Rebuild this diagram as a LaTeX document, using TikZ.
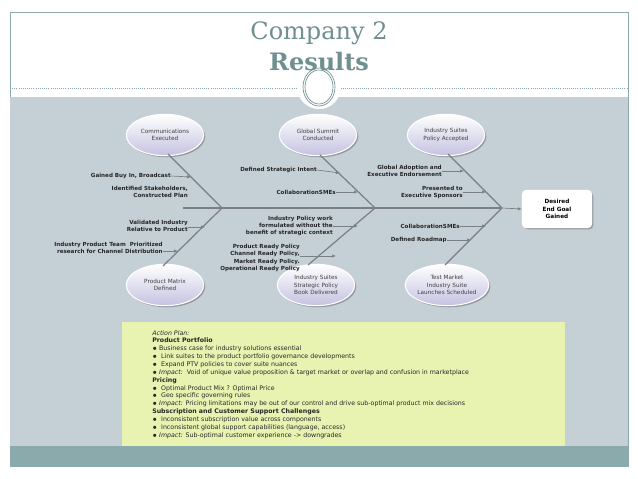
\documentclass[tikz,border=0pt]{standalone}
\usepackage{fontspec}
\setmainfont{DejaVu Sans}
\newfontfamily\titlefont{DejaVu Serif}
\usetikzlibrary{shapes.geometric,arrows.meta,shadows}
\definecolor{bg}{HTML}{C5D0D6}
\definecolor{teal}{HTML}{8AAAAC}
\definecolor{titc}{HTML}{6F8F90}
\definecolor{boxc}{HTML}{E8F3B2}
\definecolor{lav}{HTML}{C4C2E0}
\definecolor{bone}{HTML}{7A7F84}
\begin{document}
\begin{tikzpicture}[x=0.75pt,y=-0.75pt,
  ell/.style={ellipse,draw=white,line width=0.8pt,minimum width=58pt,minimum height=31pt,inner sep=0pt,top color=white,bottom color=lav,
    drop shadow={shadow xshift=1.2pt,shadow yshift=-1.2pt,fill=black!60},align=center,font=\fontsize{4.3}{5.4}\selectfont,text=black!75},
  lab/.style={font=\bfseries\fontsize{4.2}{5.3}\selectfont,align=right,anchor=east,inner sep=0pt,text=black!85},
  bn/.style={draw=bone,line width=0.9pt},
  ar/.style={draw=bone,line width=0.5pt,-{Latex[length=3pt,width=2.5pt]}}]
\useasboundingbox (0,0) rectangle (638,478);
\fill[white] (0,0) rectangle (638,478);
\draw[teal,line width=0.6pt] (10,12) rectangle (628,466);
\fill[bg] (10.3,97) rectangle (627.7,446);
\fill[teal] (10.3,446) rectangle (627.7,465.7);
\draw[teal,densely dotted,line width=0.6pt] (10,88) -- (628,88);
\node[circle,fill=white,minimum size=33pt] (cw) at (319,87) {};
\draw[titc,line width=0.5pt] (319,87) ellipse (16 and 19);
\draw[titc,line width=0.5pt] (319,87) ellipse (14 and 17);
\node[font=\titlefont\fontsize{18}{20}\selectfont,text=titc] (t1) at (319,33) {Company 2};
\node[font=\titlefont\bfseries\fontsize{18}{20}\selectfont,text=titc] (t2) at (319,62) {Results};
% ellipses
\node[ell] (e1) at (165,135) {Communications\\Executed};
\node[ell] (e2) at (318,135) {Global Summit\\Conducted};
\node[ell] (e3) at (446,135) {Industry Suites\\Policy Accepted};
\node[ell] (e4) at (165,285) {Product Matrix\\Defined};
\node[ell] (e5) at (316,285) {Industry Suites\\Strategic Policy\\Book Delivered};
\node[ell] (e6) at (447,285) {Test Market\\Industry Suite\\Launches Scheduled};
\node[draw=white,line width=0.8pt,fill=white,rounded corners=3pt,minimum width=52pt,minimum height=28pt,align=center,
  font=\bfseries\fontsize{4.3}{5.4}\selectfont,drop shadow={shadow xshift=1.2pt,shadow yshift=-1.2pt,fill=black!60}] (goal) at (557,209) {Desired\\End Goal\\Gained};
% spine
\coordinate (j1) at (222,208);
\coordinate (j2) at (375,208);
\coordinate (j3) at (502,208);
\coordinate (s0) at (183,208);
\draw[bn] (s0) -- (j3);
\draw[ar] (j3) -- (goal.west);
\draw[bn] (168,154) -- (j1); \draw[bn] (163,266) -- (j1);
\draw[bn] (320,155) -- (j2); \draw[bn] (308,265) -- (j2);
\draw[bn] (448,154) -- (j3); \draw[bn] (445,265) -- (j3);
% labels
\node[lab] (l1) at (171,176) {Gained Buy In, Broadcast};
\coordinate (a1) at (191,177); \draw[ar] (l1.east) -- (a1);
\node[lab] (l2) at (188,192) {Identified Stakeholders,\\Constructed Plan};
\node[lab] (l3) at (188,226) {Validated Industry\\Relative to Product};
\coordinate (a3) at (205,227); \draw[ar] (l3.east|-a3) -- (a3);
\node[lab] (l4) at (163,248) {Industry Product Team\ \ Prioritized\\research for Channel Distribution};
\coordinate (a4) at (178,251); \draw[ar] (l4.east|-a4) -- (a4);
\node[lab] (l5) at (317,170) {Defined Strategic Intent};
\coordinate (a5) at (340,173); \draw[ar] (l5.east) -- (a5);
\node[lab] (l6) at (336,192) {CollaborationSMEs};
\coordinate (a6) at (358,192); \draw[ar] (l6.east) -- (a6);
\node[lab] (l7) at (333,226) {Industry Policy work\\formulated without the\\benefit of strategic context};
\coordinate (a7) at (358,226); \draw[ar] (l7.east) -- (a7);
\node[lab] (l8) at (300,258) {Product Ready Policy\\Channel Ready Policy,\\Market Ready Policy.\\Operational Ready Policy};
\coordinate (a8) at (336,256); \draw[ar] (l8.east|-a8) -- (a8);
\node[lab] (l9) at (442,171) {Global Adoption and\\Executive Endorsement};
\coordinate (a9) at (464,171); \draw[ar] (l9.east) -- (a9);
\node[lab] (l10) at (463,192) {Presented to\\Executive Sponsors};
\coordinate (a10) at (486,192); \draw[ar] (l10.east) -- (a10);
\node[lab] (l11) at (460,226) {CollaborationSMEs};
\coordinate (a11) at (486,226); \draw[ar] (l11.east) -- (a11);
\node[lab] (l12) at (447,240) {Defined Roadmap};
\coordinate (a12) at (471,240); \draw[ar] (l12.east) -- (a12);
% action plan box
\fill[boxc] (122,322) rectangle (565,446);
\node[anchor=north west,align=left,inner sep=0pt,font=\fontsize{4.7}{5.9}\selectfont,text=black!85] (txt) at (152,330) {%
\textit{Action Plan:}\\
\textbf{Product Portfolio}\\
$\bullet$ Business case for industry solutions essential\\
$\bullet$\ \ Link suites to the product portfolio governance developments\\
$\bullet$\ \ Expand PTV policies to cover suite nuances\\
$\bullet$ \textit{Impact:}\ \ Void of unique value proposition \& target market or overlap and confusion in marketplace\\
\textbf{Pricing}\\
$\bullet$\ \ Optimal Product Mix ? Optimal Price\\
$\bullet$\ \ Geo specific governing rules\\
$\bullet$ \textit{Impact:} Pricing limitations may be out of our control and drive sub-optimal product mix decisions\\
\textbf{Subscription and Customer Support Challenges}\\
$\bullet$\ \ Inconsistent subscription value across components\\
$\bullet$\ \ Inconsistent global support capabilities (language, access)\\
$\bullet$ \textit{Impact:} Sub-optimal customer experience -> downgrades};
\end{tikzpicture}
\end{document}
